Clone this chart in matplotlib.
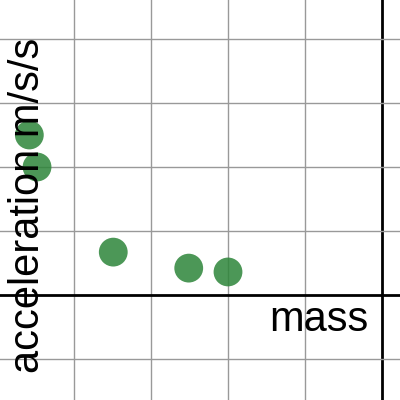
import matplotlib
matplotlib.use("Agg")
import matplotlib.pyplot as plt
import numpy as np

mass = [-4.58, -4.48, -3.49, -2.51, -2.0]
accel = [2.5, 2.0, 0.67, 0.42, 0.36]

plt.rcParams['font.family'] = ['Liberation Sans', 'DejaVu Sans']
fig = plt.figure(figsize=(4, 4), dpi=100)
ax = fig.add_axes([0, 0, 1, 1])
x0, x1 = -382/77, 18/77
y0, y1 = -105/64, 295/64
ax.set_xlim(x0, x1)
ax.set_ylim(y0, y1)
for v in np.arange(-5, 1):
    ax.axvline(v, color='#999999' if v else 'black', lw=1 if v else 2, zorder=1)
for v in np.arange(-2, 5):
    ax.axhline(v, color='#999999' if v else 'black', lw=1 if v else 2, zorder=1)
ax.scatter(mass, accel, s=430, color='#2d8539', alpha=0.85, edgecolors='none', zorder=3)
ax.set_xticks([]); ax.set_yticks([])
for s in ax.spines.values():
    s.set_visible(False)
ax.text(368/400, 1-300/400, 'mass', ha='right', va='top', fontsize=30, transform=ax.transAxes, zorder=4)
ax.text(28/400, 1-38/400, 'acceleration m/s/s', rotation=90, ha='center', va='top', fontsize=30, transform=ax.transAxes, zorder=4)
fig.savefig('out.png', dpi=100)
